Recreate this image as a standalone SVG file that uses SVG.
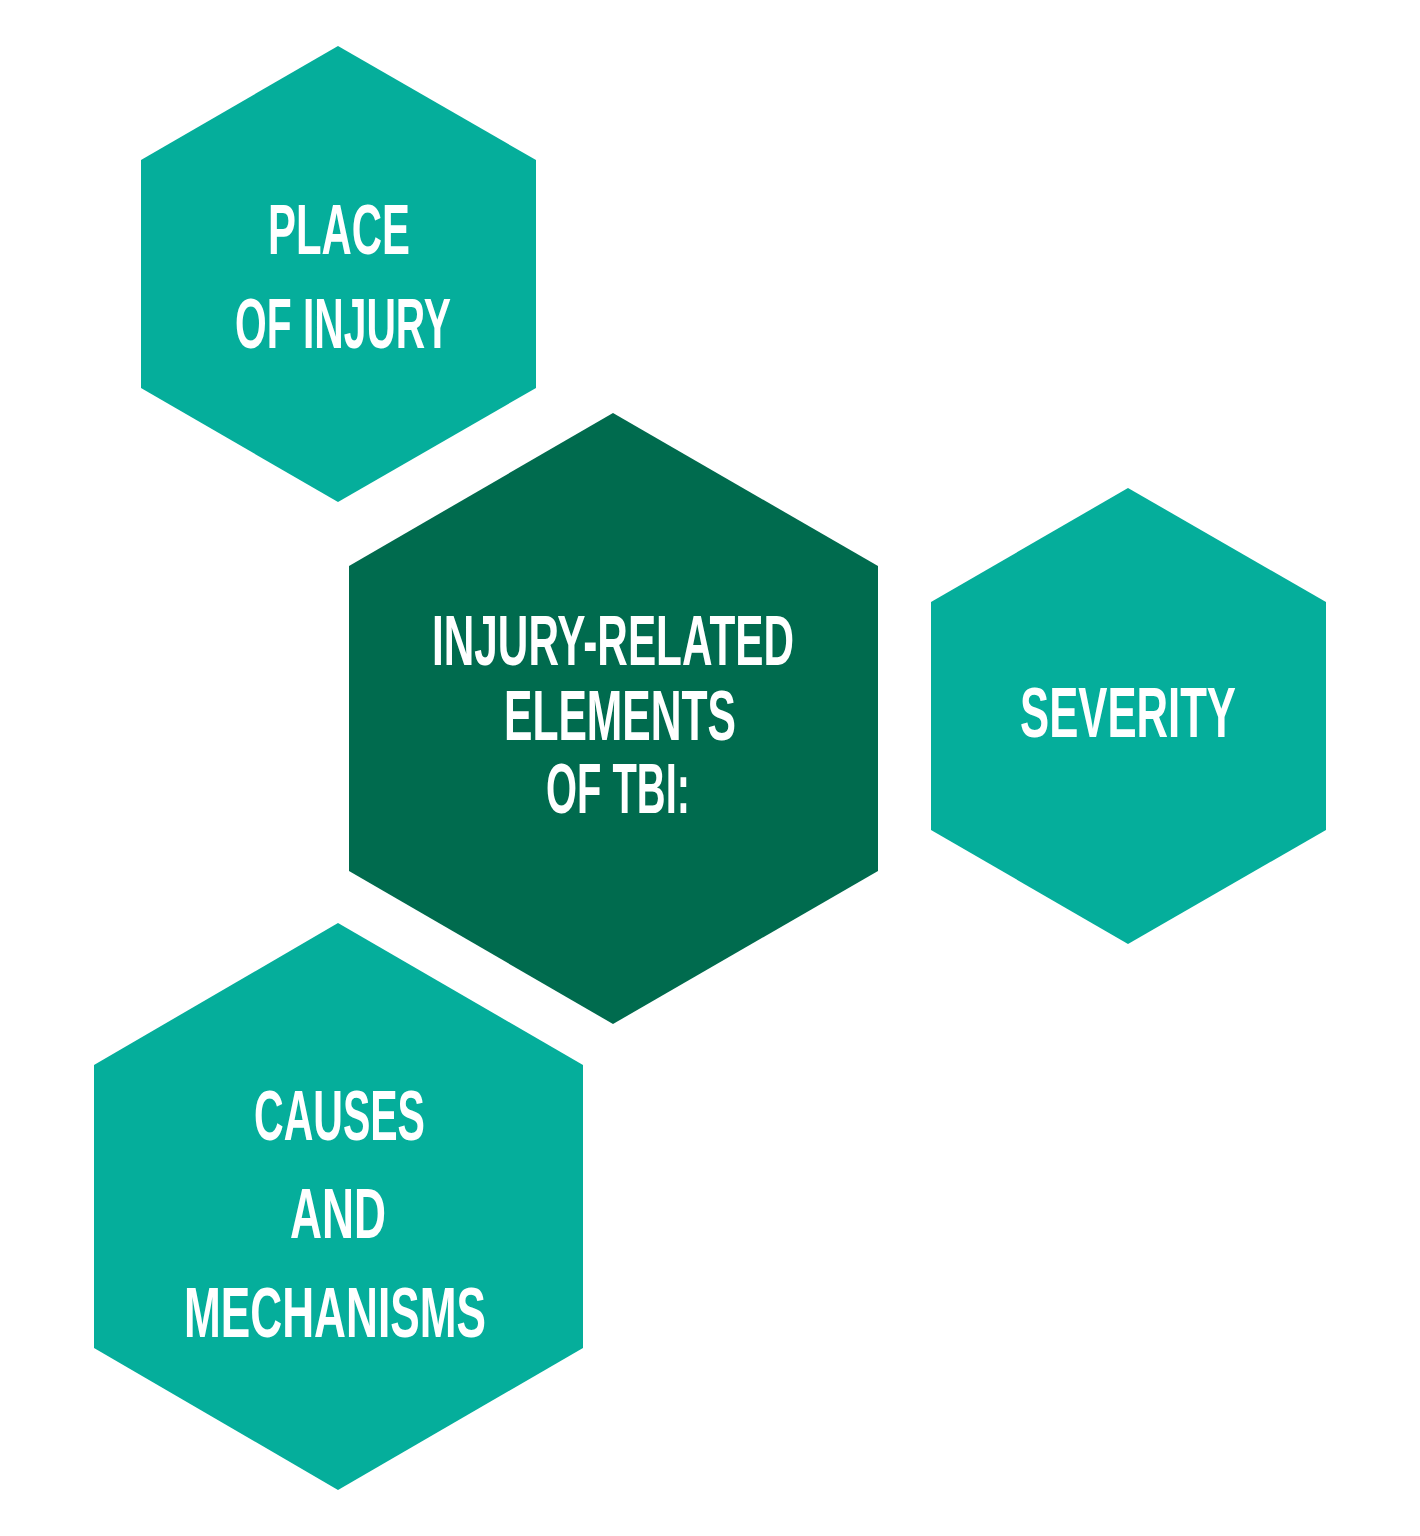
<svg xmlns="http://www.w3.org/2000/svg" width="1420" height="1536" viewBox="0 0 1420 1536">
<style>
.teal{fill:#05AE9B}
.dark{fill:#006B4E}
.lbl{font-family:"Liberation Sans",Arial,sans-serif;font-weight:bold;font-size:71px;fill:#ffffff}
</style>
<rect width="1420" height="1536" fill="#ffffff"/>
<g id="node-place">
<polygon class="teal" points="338,46 536,160 536,388 338,502 141,388 141,160"/>
<text class="lbl" x="268" y="254" textLength="142" lengthAdjust="spacingAndGlyphs">PLACE</text>
<text class="lbl" x="235" y="348" textLength="216" lengthAdjust="spacingAndGlyphs">OF INJURY</text>
</g>
<g id="node-center">
<polygon class="dark" points="613,413 878,566 878,871 613,1024 349,871 349,566"/>
<text class="lbl" x="432" y="665" textLength="362" lengthAdjust="spacingAndGlyphs">INJURY-RELATED</text>
<text class="lbl" x="504" y="740" textLength="232" lengthAdjust="spacingAndGlyphs">ELEMENTS</text>
<text class="lbl" x="546" y="813" textLength="144" lengthAdjust="spacingAndGlyphs">OF TBI:</text>
</g>
<g id="node-severity">
<polygon class="teal" points="1128,488 1326,602 1326,830 1128,944 931,830 931,602"/>
<text class="lbl" x="1020" y="737" textLength="216" lengthAdjust="spacingAndGlyphs">SEVERITY</text>
</g>
<g id="node-causes">
<polygon class="teal" points="338,923 583,1065 583,1348 338,1490 94,1348 94,1065"/>
<text class="lbl" x="254" y="1140" textLength="171" lengthAdjust="spacingAndGlyphs">CAUSES</text>
<text class="lbl" x="290" y="1238" textLength="96" lengthAdjust="spacingAndGlyphs">AND</text>
<text class="lbl" x="184" y="1337" textLength="302" lengthAdjust="spacingAndGlyphs">MECHANISMS</text>
</g>
<g id="connectors"></g>
</svg>
